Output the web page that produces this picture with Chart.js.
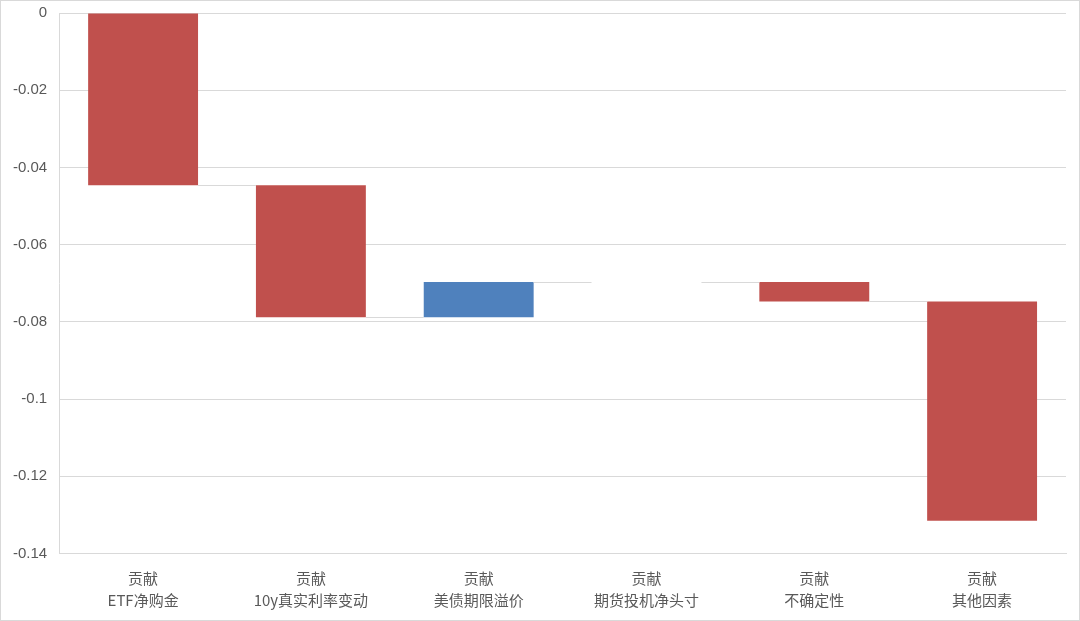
<!DOCTYPE html>
<html>
<head>
<meta charset="utf-8">
<script src="https://cdn.jsdelivr.net/npm/chart.js@4/dist/chart.umd.min.js"></script>
<style>
  html, body { margin: 0; padding: 0; background: #fff; }
  #wrap { width: 1080px; height: 621px; box-sizing: border-box; border: 1px solid #d9d9d9; }
</style>
</head>
<body>
<div id="wrap"><canvas id="waterfall"></canvas></div>
<script>
/* --------------- Data --------------- */
const categories = ["ETF净购金", "10y真实利率变动", "美债期限溢价", "期货投机净头寸", "不确定性", "其他因素"];
const contributions = [-0.0446, -0.0342, 0.0091, 0, -0.0050, -0.0568];
const yTicks = [0, -0.02, -0.04, -0.06, -0.08, -0.1, -0.12, -0.14];

/* --------------- Colors --------------- */
const upColor = "#4f81bd";
const downColor = "#c0504d";
const gridColor = "#d9d9d9";

/* --------------- Floating bars from running total --------------- */
let total = 0;
const spans = [];
const ends = [];
for (const c of contributions) {
  spans.push([total, total + c]);
  total += c;
  ends.push(total);
}
const barColors = contributions.map((c) => (c > 0 ? upColor : downColor));

/* --------------- Connector lines between bars --------------- */
const connectors = {
  id: "connectors",
  afterDatasetsDraw(chart) {
    const meta = chart.getDatasetMeta(0);
    const y = chart.scales.y;
    const ctx = chart.ctx;
    ctx.save();
    ctx.strokeStyle = gridColor;
    ctx.lineWidth = 1;
    for (let i = 0; i < meta.data.length - 1; i++) {
      const a = meta.data[i];
      const b = meta.data[i + 1];
      const py = Math.round(y.getPixelForValue(ends[i])) + 0.5;
      ctx.beginPath();
      ctx.moveTo(a.x + a.width / 2, py);
      ctx.lineTo(b.x - b.width / 2, py);
      ctx.stroke();
    }
    ctx.restore();
  },
};

new Chart(document.getElementById("waterfall"), {
  type: "bar",
  plugins: [connectors],
  data: {
    labels: categories.map((c) => ["贡献", c]),
    datasets: [
      {
        data: spans,
        backgroundColor: barColors,
        categoryPercentage: 1,
        barPercentage: 0.655,
      },
    ],
  },
  options: {
    responsive: true,
    maintainAspectRatio: false,
    animation: false,
    layout: { padding: { top: 12, right: 13, left: 0, bottom: -5 } },
    plugins: {
      legend: { display: false },
      tooltip: { enabled: false },
    },
    scales: {
      x: {
        grid: { display: false, drawTicks: false },
        border: { color: gridColor },
        ticks: {
          color: "#595959",
          padding: 14,
          maxRotation: 0,
          font: { family: "'Noto Sans CJK SC'", size: 15, lineHeight: 1.45 },
        },
      },
      y: {
        min: -0.14,
        max: 0,
        afterBuildTicks: (axis) => {
          axis.ticks = yTicks.map((v) => ({ value: v }));
        },
        afterFit: (axis) => {
          axis.paddingTop = 0;
        },
        grid: { color: gridColor, drawTicks: false },
        border: { color: gridColor },
        ticks: {
          color: "#595959",
          padding: 12,
          font: { family: "'Liberation Sans', sans-serif", size: 15, lineHeight: 1 },
          callback: (v) => String(Math.round(v * 100) / 100),
        },
      },
    },
  },
});
</script>
</body>
</html>
